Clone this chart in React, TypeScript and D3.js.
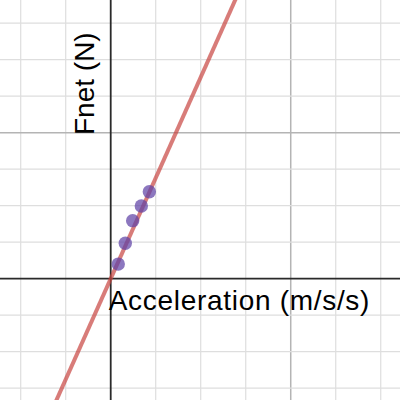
import React from "react";
import * as d3 from "d3";

const accel = [0.084, 0.162, 0.244, 0.34, 0.429];
const fnet = [0.2, 0.485, 0.795, 0.996, 1.192];
const slope = 2.76;
const xLabel = "Acceleration (m/s/s)";
const yLabel = "Fnet (N)";

const W = 400;
const H = 400;

export default function App() {
  const x = d3.scaleLinear().domain([-1.23, 3.214]).range([0, W]);
  const y = d3.scaleLinear().domain([-1.662, 3.818]).range([H, 0]);
  const step = 0.5;
  const xTicks = d3.range(Math.ceil(-1.23 / step), Math.floor(3.214 / step) + 1).map((k) => k * step);
  const yTicks = d3.range(Math.ceil(-1.662 / step), Math.floor(3.818 / step) + 1).map((k) => k * step);
  const isMajor = (v: number) => Math.abs(v / 2 - Math.round(v / 2)) < 1e-9;
  const [x0, x1] = x.domain();
  const lineGen = d3
    .line<number>()
    .x((d) => x(d))
    .y((d) => y(slope * d));
  const font = "Arial, 'Liberation Sans', sans-serif";
  return (
    <svg
      width={W}
      height={H}
      style={{ position: "absolute", left: 0, top: 0, background: "#fff" }}
    >
      <rect width={W} height={H} fill="#fff" />
      {xTicks
        .filter((v) => v !== 0)
        .map((v) => (
          <line
            key={"gx" + v}
            x1={x(v)}
            x2={x(v)}
            y1={0}
            y2={H}
            stroke={isMajor(v) ? "#b4b4b4" : "#dedede"}
            strokeWidth={isMajor(v) ? 1.5 : 1.2}
          />
        ))}
      {yTicks
        .filter((v) => v !== 0)
        .map((v) => (
          <line
            key={"gy" + v}
            y1={y(v)}
            y2={y(v)}
            x1={0}
            x2={W}
            stroke={isMajor(v) ? "#b4b4b4" : "#dedede"}
            strokeWidth={isMajor(v) ? 1.5 : 1.2}
          />
        ))}
      <line x1={x(0)} x2={x(0)} y1={0} y2={H} stroke="#2a2a2a" strokeWidth={1.8} />
      <line y1={y(0)} y2={y(0)} x1={0} x2={W} stroke="#2a2a2a" strokeWidth={1.8} />
      <path
        d={lineGen([x0, x1]) || ""}
        fill="none"
        stroke="#c74440"
        strokeOpacity={0.7}
        strokeWidth={4}
      />
      {accel.map((a, i) => (
        <circle
          key={"p" + i}
          cx={x(a)}
          cy={y(fnet[i])}
          r={6.7}
          fill="#6042a6"
          fillOpacity={0.72}
        />
      ))}
      <text
        x={x(0) - 2}
        y={309.5}
        fontFamily={font}
        fontSize={28}
        letterSpacing={0.7}
        fill="#000"
      >
        {xLabel}
      </text>
      <text
        transform={`translate(${94},${135}) rotate(-90)`}
        fontFamily={font}
        fontSize={28}
        fill="#000"
      >
        {yLabel}
      </text>
    </svg>
  );
}
